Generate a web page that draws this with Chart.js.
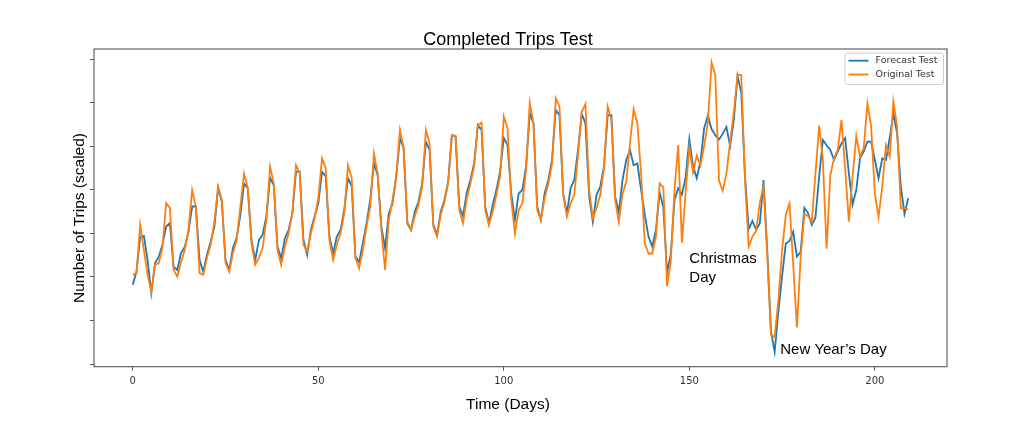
<!DOCTYPE html>
<html>
<head>
<meta charset="utf-8">
<script src="https://cdn.jsdelivr.net/npm/chart.js@4.4.1/dist/chart.umd.min.js"></script>
<style>
  html, body { margin: 0; padding: 0; background: #ffffff; }
  #wrap { width: 1024px; height: 439px; }
</style>
</head>
<body>
<div id="wrap"><canvas id="c" width="1024" height="439"></canvas></div>
<script>
// ---- Data (scaled units; unlabeled y ticks at 0..7) ----
const forecastTest = [
  1.82,2.12,2.93,2.94,2.39,1.63,2.32,2.46,2.74,3.16,
  3.24,2.23,2.16,2.55,2.69,3.03,3.62,3.62,2.39,2.12,
  2.51,2.81,3.16,4.05,3.73,2.39,2.16,2.67,2.90,3.43,
  4.15,4.04,2.85,2.39,2.85,2.97,3.39,4.28,4.11,2.70,
  2.43,2.89,3.08,3.46,4.42,4.42,2.85,2.51,3.08,3.39,
  3.69,4.42,4.31,2.93,2.54,2.93,3.08,3.54,4.27,4.09,
  2.48,2.34,2.77,3.23,3.77,4.61,4.34,3.16,2.66,3.46,
  3.69,4.31,5.19,4.96,3.23,3.08,3.50,3.73,4.15,5.11,
  4.92,3.20,2.97,3.50,3.77,4.19,5.26,5.23,3.62,3.40,
  3.94,4.23,4.61,5.49,5.38,3.62,3.23,3.66,4.00,4.42,
  5.20,5.03,3.92,3.31,3.92,4.00,4.54,5.76,5.53,3.62,
  3.31,3.92,4.23,4.69,5.84,5.72,3.92,3.46,4.04,4.23,
  4.92,5.75,5.53,3.85,3.27,3.89,4.08,4.54,5.72,5.72,
  3.85,3.49,4.23,4.69,4.92,4.57,4.61,4.00,3.43,2.93,
  2.70,3.08,3.94,3.60,2.11,2.51,3.77,4.04,3.89,4.28,
  5.17,4.55,4.27,4.65,5.42,5.71,5.40,5.26,5.16,5.29,
  5.45,5.01,5.61,6.62,6.24,4.34,3.10,3.29,3.09,3.23,
  4.23,2.62,0.76,0.28,1.20,2.02,2.77,2.83,3.04,2.47,
  2.57,3.59,3.47,3.20,3.37,4.31,5.15,5.03,4.92,4.69,
  4.88,5.07,5.19,4.38,3.66,4.00,4.73,4.88,5.11,5.11,
  4.69,4.27,4.73,4.69,5.19,5.75,5.30,4.08,3.45,3.81
];
const originalTest = [
  2.05,2.09,3.20,2.62,2.05,1.66,2.28,2.32,2.67,3.70,
  3.59,2.16,2.01,2.34,2.62,3.08,4.00,3.61,2.09,2.05,
  2.44,2.74,3.27,4.08,3.77,2.32,2.12,2.55,2.85,3.62,
  4.38,4.04,2.78,2.28,2.44,2.67,3.31,4.54,4.15,2.62,
  2.28,2.70,3.00,3.46,4.57,4.38,2.74,2.58,3.00,3.35,
  3.81,4.73,4.50,2.85,2.39,2.74,3.00,3.46,4.57,4.28,
  2.44,2.20,2.62,3.16,3.62,4.84,4.38,3.08,2.16,3.31,
  3.77,4.31,5.38,4.96,3.27,3.08,3.39,3.66,4.08,5.38,
  5.07,3.16,2.93,3.43,3.73,4.15,5.26,5.24,3.54,3.23,
  3.79,4.15,4.54,5.49,5.55,3.54,3.20,3.50,3.89,4.31,
  5.69,5.42,3.77,3.00,3.54,3.69,4.46,6.01,5.53,3.54,
  3.31,3.81,4.15,4.61,6.11,5.92,3.89,3.39,3.69,3.89,
  4.80,5.79,5.98,4.00,3.35,3.58,3.89,4.50,5.92,5.61,
  3.77,3.26,3.92,4.19,5.07,5.86,5.53,4.38,2.77,2.54,
  2.54,2.93,4.15,4.06,1.79,2.36,4.00,5.03,2.79,3.95,
  4.98,4.40,4.79,4.57,5.01,5.54,6.93,6.64,4.21,3.98,
  4.38,5.10,5.79,6.65,6.64,4.23,2.70,2.93,3.06,3.71,
  4.08,2.51,0.67,0.62,1.47,2.62,3.43,3.69,2.28,0.84,
  2.44,3.45,3.40,3.27,4.38,5.48,4.69,2.65,4.34,4.73,
  4.92,5.61,4.50,3.27,4.31,5.24,4.77,4.96,5.99,5.46,
  3.92,3.38,4.08,5.03,4.77,6.03,5.46,3.58,3.58,3.55
];
const days = forecastTest.map((_, i) => i);
const xTickValues = [0, 50, 100, 150, 200];
const yTickValues = [0, 1, 2, 3, 4, 5, 6, 7];
const seriesNames = ['Forecast Test', 'Original Test'];
const seriesColors = ['#1f77b4', '#ff7f0e'];
const titleText = 'Completed Trips Test';
const xTitle = 'Time (Days)';
const yTitle = 'Number of Trips (scaled)';
const annotations = [
  { lines: ['Christmas', 'Day'], x: 150, y: 2.42 },
  { lines: ["New Year\u2019s Day"], x: 174.5, y: 0.32 }
];

const sansArial = '"Liberation Sans", Arial, sans-serif';
const sansDejavu = '"DejaVu Sans", sans-serif';

const overlay = {
  id: 'overlay',
  afterDraw(chart) {
    const ctx = chart.ctx;
    const a = chart.chartArea;
    const xs = chart.scales.x, ys = chart.scales.y;
    ctx.save();
    // spines
    ctx.strokeStyle = '#555555';
    ctx.lineWidth = 1.1;
    ctx.strokeRect(a.left, a.top, a.right - a.left, a.bottom - a.top);
    // title
    ctx.fillStyle = '#000000';
    ctx.textAlign = 'center';
    ctx.textBaseline = 'middle';
    ctx.font = '18px ' + sansArial;
    ctx.fillText(titleText, 508, 40);
    // x title
    ctx.font = '15.5px ' + sansArial;
    ctx.fillText(xTitle, 508, 405);
    // y title
    ctx.save();
    ctx.translate(80, 218);
    ctx.rotate(-Math.PI / 2);
    ctx.fillText(yTitle, 0, 0);
    ctx.restore();
    // annotations
    ctx.font = '15px ' + sansArial;
    ctx.textAlign = 'left';
    annotations.forEach(an => {
      const px = xs.getPixelForValue(an.x);
      const py = ys.getPixelForValue(an.y);
      an.lines.forEach((ln, k) => ctx.fillText(ln, px, py + k * 19));
    });
    // legend
    const lx = 845, ly = 53, lw = 98.5, lh = 31.5, r = 2.5;
    ctx.beginPath();
    ctx.moveTo(lx + r, ly);
    ctx.lineTo(lx + lw - r, ly);
    ctx.quadraticCurveTo(lx + lw, ly, lx + lw, ly + r);
    ctx.lineTo(lx + lw, ly + lh - r);
    ctx.quadraticCurveTo(lx + lw, ly + lh, lx + lw - r, ly + lh);
    ctx.lineTo(lx + r, ly + lh);
    ctx.quadraticCurveTo(lx, ly + lh, lx, ly + lh - r);
    ctx.lineTo(lx, ly + r);
    ctx.quadraticCurveTo(lx, ly, lx + r, ly);
    ctx.closePath();
    ctx.fillStyle = 'rgba(255,255,255,0.8)';
    ctx.fill();
    ctx.strokeStyle = '#cccccc';
    ctx.lineWidth = 1;
    ctx.stroke();
    ctx.font = '9.5px ' + sansDejavu;
    ctx.textBaseline = 'middle';
    seriesNames.forEach((nm, k) => {
      const yy = 60.7 + k * 13.8;
      ctx.strokeStyle = seriesColors[k];
      ctx.lineWidth = 1.8;
      ctx.beginPath();
      ctx.moveTo(848.5, yy);
      ctx.lineTo(868.5, yy);
      ctx.stroke();
      ctx.fillStyle = '#333333';
      ctx.fillText(nm, 875.5, yy);
    });
    ctx.restore();
  }
};

new Chart(document.getElementById('c'), {
  type: 'line',
  data: {
    datasets: [
      {
        label: seriesNames[0],
        data: days.map((d, i) => ({ x: d, y: forecastTest[i] })),
        borderColor: seriesColors[0],
        borderWidth: 1.8,
        pointRadius: 0,
        tension: 0,
        fill: false,
        order: 2
      },
      {
        label: seriesNames[1],
        data: days.map((d, i) => ({ x: d, y: originalTest[i] })),
        borderColor: seriesColors[1],
        borderWidth: 1.8,
        pointRadius: 0,
        tension: 0,
        fill: false,
        order: 1
      }
    ]
  },
  options: {
    responsive: false,
    animation: false,
    devicePixelRatio: 1,
    layout: { padding: { left: 0, right: 77, top: 49, bottom: 0 } },
    plugins: { legend: { display: false }, title: { display: false }, tooltip: { enabled: false } },
    scales: {
      x: {
        type: 'linear',
        min: -10.45,
        max: 219.45,
        afterBuildTicks: s => { s.ticks = xTickValues.map(v => ({ value: v })); },
        afterFit: s => { s.height = 72.3; },
        grid: { display: true, drawOnChartArea: false, drawTicks: true, tickLength: 4, color: '#555555', lineWidth: 1 },
        border: { display: false },
        ticks: { color: '#333333', font: { family: 'DejaVu Sans', size: 10 }, padding: 5, maxRotation: 0, callback: v => String(v) }
      },
      y: {
        type: 'linear',
        min: -0.062,
        max: 7.241,
        afterBuildTicks: s => { s.ticks = yTickValues.map(v => ({ value: v })); },
        afterFit: s => { s.width = 94; },
        grid: { display: true, drawOnChartArea: false, drawTicks: true, tickLength: 4, color: '#555555', lineWidth: 1 },
        border: { display: false },
        ticks: { callback: () => '', padding: 0 }
      }
    }
  },
  plugins: [overlay]
});
</script>
</body>
</html>
